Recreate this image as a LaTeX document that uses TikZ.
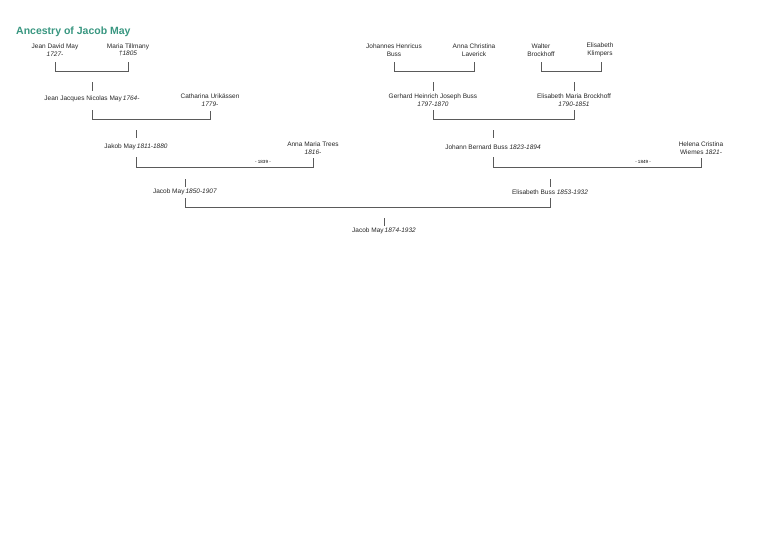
\documentclass[tikz,border=0pt]{standalone}
\usepackage{fontspec}
\setmainfont{Liberation Sans}
\definecolor{teal1}{RGB}{56,150,128}
\definecolor{ln}{RGB}{90,90,90}
\begin{document}
\begin{tikzpicture}[x=1pt,y=-1pt,
  p/.style={font=\fontsize{6.5}{7.6}\selectfont,align=center,inner sep=0pt,text=black!85},
  yr/.style={font=\fontsize{4.5}{5}\selectfont,inner sep=0pt},
  lk/.style={draw=ln,line width=0.7pt}]
\useasboundingbox (0,0) rectangle (768,542);
\node[anchor=west,font=\bfseries\fontsize{10.5}{12}\selectfont,text=teal1,inner sep=0pt] (title) at (16,32) {Ancestry of Jacob May};
% generation 1 left
\node[p] (jd) at (55,50) {Jean David May\\\textit{1727-}};
\node[p] (mt) at (128,50) {Maria Tillmany\\\textit{\textdagger1805}};
\node[p] (jj) at (92,99) {Jean Jacques Nicolas May\,\textit{1764-}};
\node[p] (cu) at (210,100) {Catharina Urikässen\\\textit{1779-}};
\node[p] (jk) at (136,147) {Jakob May\,\textit{1811-1880}};
\node[p] (amt) at (313,148) {Anna Maria Trees\\\textit{1816-}};
\node[p] (jm) at (185,192) {Jacob May\,\textit{1850-1907}};
\node[p] (jm2) at (384,231) {Jacob May\,\textit{1874-1932}};
% right
\node[p] (jh) at (394,50) {Johannes Henricus\\Buss};
\node[p] (acl) at (474,50) {Anna Christina\\Laverick};
\node[p] (wb) at (541,50) {Walter\\Brockhoff};
\node[p] (ek) at (600,50) {Elisabeth\\Klimpers};
\node[p] (gh) at (433,100) {Gerhard Heinrich Joseph Buss\\\textit{1797-1870}};
\node[p] (emb) at (574,100) {Elisabeth Maria Brockhoff\\\textit{1790-1851}};
\node[p] (jb) at (493,147) {Johann Bernard Buss \textit{1823-1894}};
\node[p] (hw) at (701,148) {Helena Cristina\\Wiemes \textit{1821-}};
\node[p] (eb) at (550,192) {Elisabeth Buss \textit{1853-1932}};
\node[yr] (m1) at (263,162) {- 1839 -};
\node[yr] (m2) at (643,162) {- 1849 -};
% connectors
\draw[lk] (55,62) |- (128,71) -- (128,62);
\draw[lk] (92,82) -- (92,91);
\draw[lk] (92,110) |- (210,119) -- (210,111);
\draw[lk] (136,130) -- (136,138);
\draw[lk] (136,157) |- (313,167) -- (313,158);
\draw[lk] (185,179) -- (185,187);
\draw[lk] (185,198) |- (550,207) -- (550,198);
\draw[lk] (384,218) -- (384,226);
\draw[lk] (394,62) |- (474,71) -- (474,62);
\draw[lk] (541,62) |- (601,71) -- (601,62);
\draw[lk] (433,82) -- (433,91);
\draw[lk] (574,82) -- (574,91);
\draw[lk] (433,110) |- (574,119) -- (574,110);
\draw[lk] (493,130) -- (493,138);
\draw[lk] (493,157) |- (701,167) -- (701,158);
\draw[lk] (550,179) -- (550,187);
\end{tikzpicture}
\end{document}
